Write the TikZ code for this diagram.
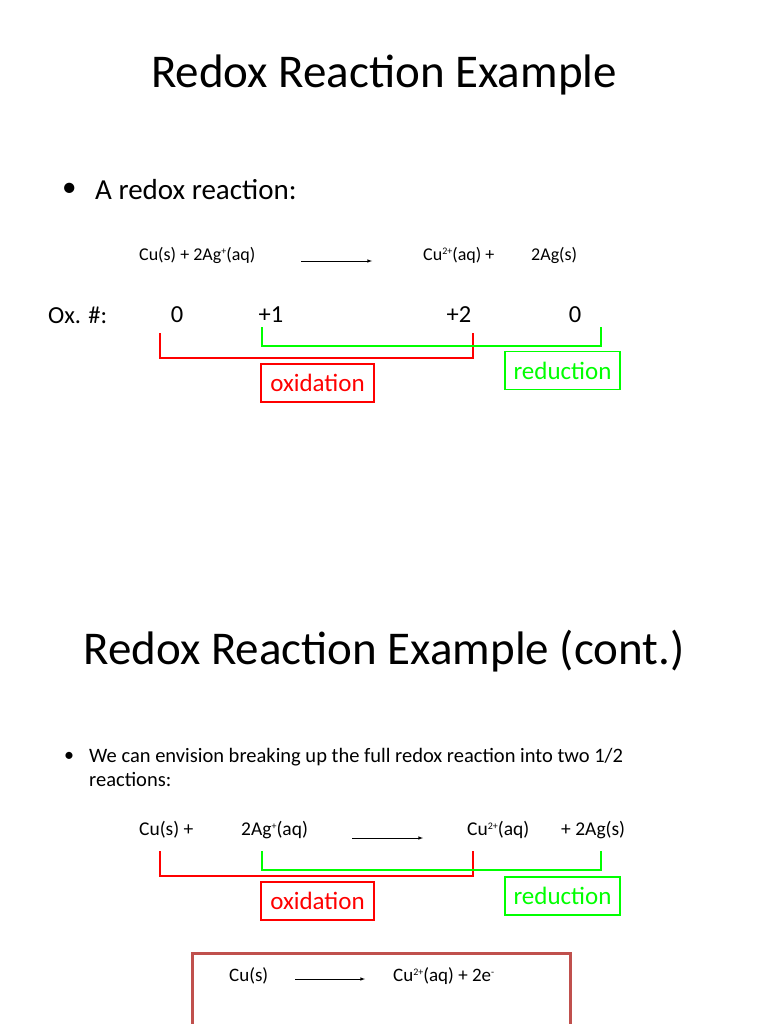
\documentclass[tikz,border=0pt]{standalone}
\usepackage{fontspec}
\setmainfont{Carlito}
\definecolor{rd}{RGB}{255,0,0}
\definecolor{gr}{RGB}{0,255,0}
\definecolor{bx}{RGB}{192,80,77}
\newcommand{\mysup}[1]{\raisebox{.6ex}{\fontsize{10}{10}\selectfont #1}}
\begin{document}
\begin{tikzpicture}[x=1pt,y=-1pt,
  txt/.style={anchor=west,inner sep=0pt},
  lab/.style={draw,line width=1.5pt,inner sep=0pt,minimum height=38pt,font=\fontsize{25}{28}\selectfont},
  arr/.style={-latex,line width=0.6pt}]
\useasboundingbox (0,0) rectangle (768,1024);
\fill[white] (0,0) rectangle (768,1024);
\node (t1) at (384,75) {\fontsize{47}{54}\selectfont Redox Reaction Example};
\node[txt] (b1d) at (62,190) {\fontsize{29}{34}\selectfont •};
\node[txt] (b1) at (95,190) {\fontsize{29}{34}\selectfont A redox reaction:};
\node[txt] (e1) at (139,255) {\fontsize{18}{21}\selectfont Cu(s) + 2Ag\mysup{+}(aq)};
\coordinate (a1s) at (301,261); \coordinate (a1e) at (372,261);
\draw[arr] (a1s) -- (a1e);
\node[txt] (e2) at (423,255) {\fontsize{18}{21}\selectfont Cu\mysup{2+}(aq) +};
\node[txt] (e3) at (531,255) {\fontsize{18}{21}\selectfont 2Ag(s)};
\node[txt] (ox) at (48,315) {\fontsize{24.5}{28}\selectfont Ox. \#:};
\node (n1) at (177,315) {\fontsize{24.5}{28}\selectfont 0};
\node (n2) at (271,315) {\fontsize{24.5}{28}\selectfont +1};
\node (n3) at (459,315) {\fontsize{24.5}{28}\selectfont +2};
\node (n4) at (575,315) {\fontsize{24.5}{28}\selectfont 0};
\draw[rd,line width=1.5pt] (160,333) -- (160,358) -- (473,358) -- (473,333);
\draw[gr,line width=1.5pt] (262,327) -- (262,346) -- (601,346) -- (601,327);
\node[lab,rd,minimum width=113pt] (o1) at (317.5,383) {oxidation};
\node[lab,gr,minimum width=115pt] (r1) at (562.5,370.5) {reduction};

\node (t2) at (384,651) {\fontsize{47}{54}\selectfont Redox Reaction Example (cont.)};
\node[txt] (b2) at (64,757) {\fontsize{20}{22}\selectfont •};
\node[txt] (b2a) at (89,757) {\fontsize{20.5}{22}\selectfont We can envision breaking up the full redox reaction into two 1/2};
\node[txt] (b2b) at (89,779) {\fontsize{20.5}{22}\selectfont reactions:};
\node[txt] (f1) at (139,830) {\fontsize{19.5}{22}\selectfont Cu(s) +};
\node[txt] (f2) at (241,830) {\fontsize{19.5}{22}\selectfont 2Ag\mysup{+}(aq)};
\coordinate (a2s) at (352,838); \coordinate (a2e) at (423,838);
\draw[arr] (a2s) -- (a2e);
\node[txt] (f3) at (467,830) {\fontsize{19.5}{22}\selectfont Cu\mysup{2+}(aq)};
\node[txt] (f4) at (561,830) {\fontsize{19.5}{22}\selectfont + 2Ag(s)};
\draw[rd,line width=1.5pt] (160,851) -- (160,876) -- (473,876) -- (473,851);
\draw[gr,line width=1.5pt] (262,851) -- (262,870) -- (601,870) -- (601,851);
\node[lab,rd,minimum width=113pt] (o2) at (317.5,901) {oxidation};
\node[lab,gr,minimum width=115pt] (r2) at (562.5,896) {reduction};
\draw[bx,line width=3pt] (192,1030) -- (192,953) -- (570,953) -- (570,1030);
\node[txt] (h1) at (229,976) {\fontsize{19}{22}\selectfont Cu(s)};
\coordinate (a3s) at (295,979); \coordinate (a3e) at (365,979);
\draw[arr] (a3s) -- (a3e);
\node[txt] (h2) at (393,976) {\fontsize{19}{22}\selectfont Cu\mysup{2+}(aq) + 2e\mysup{-}};
\end{tikzpicture}
\end{document}
